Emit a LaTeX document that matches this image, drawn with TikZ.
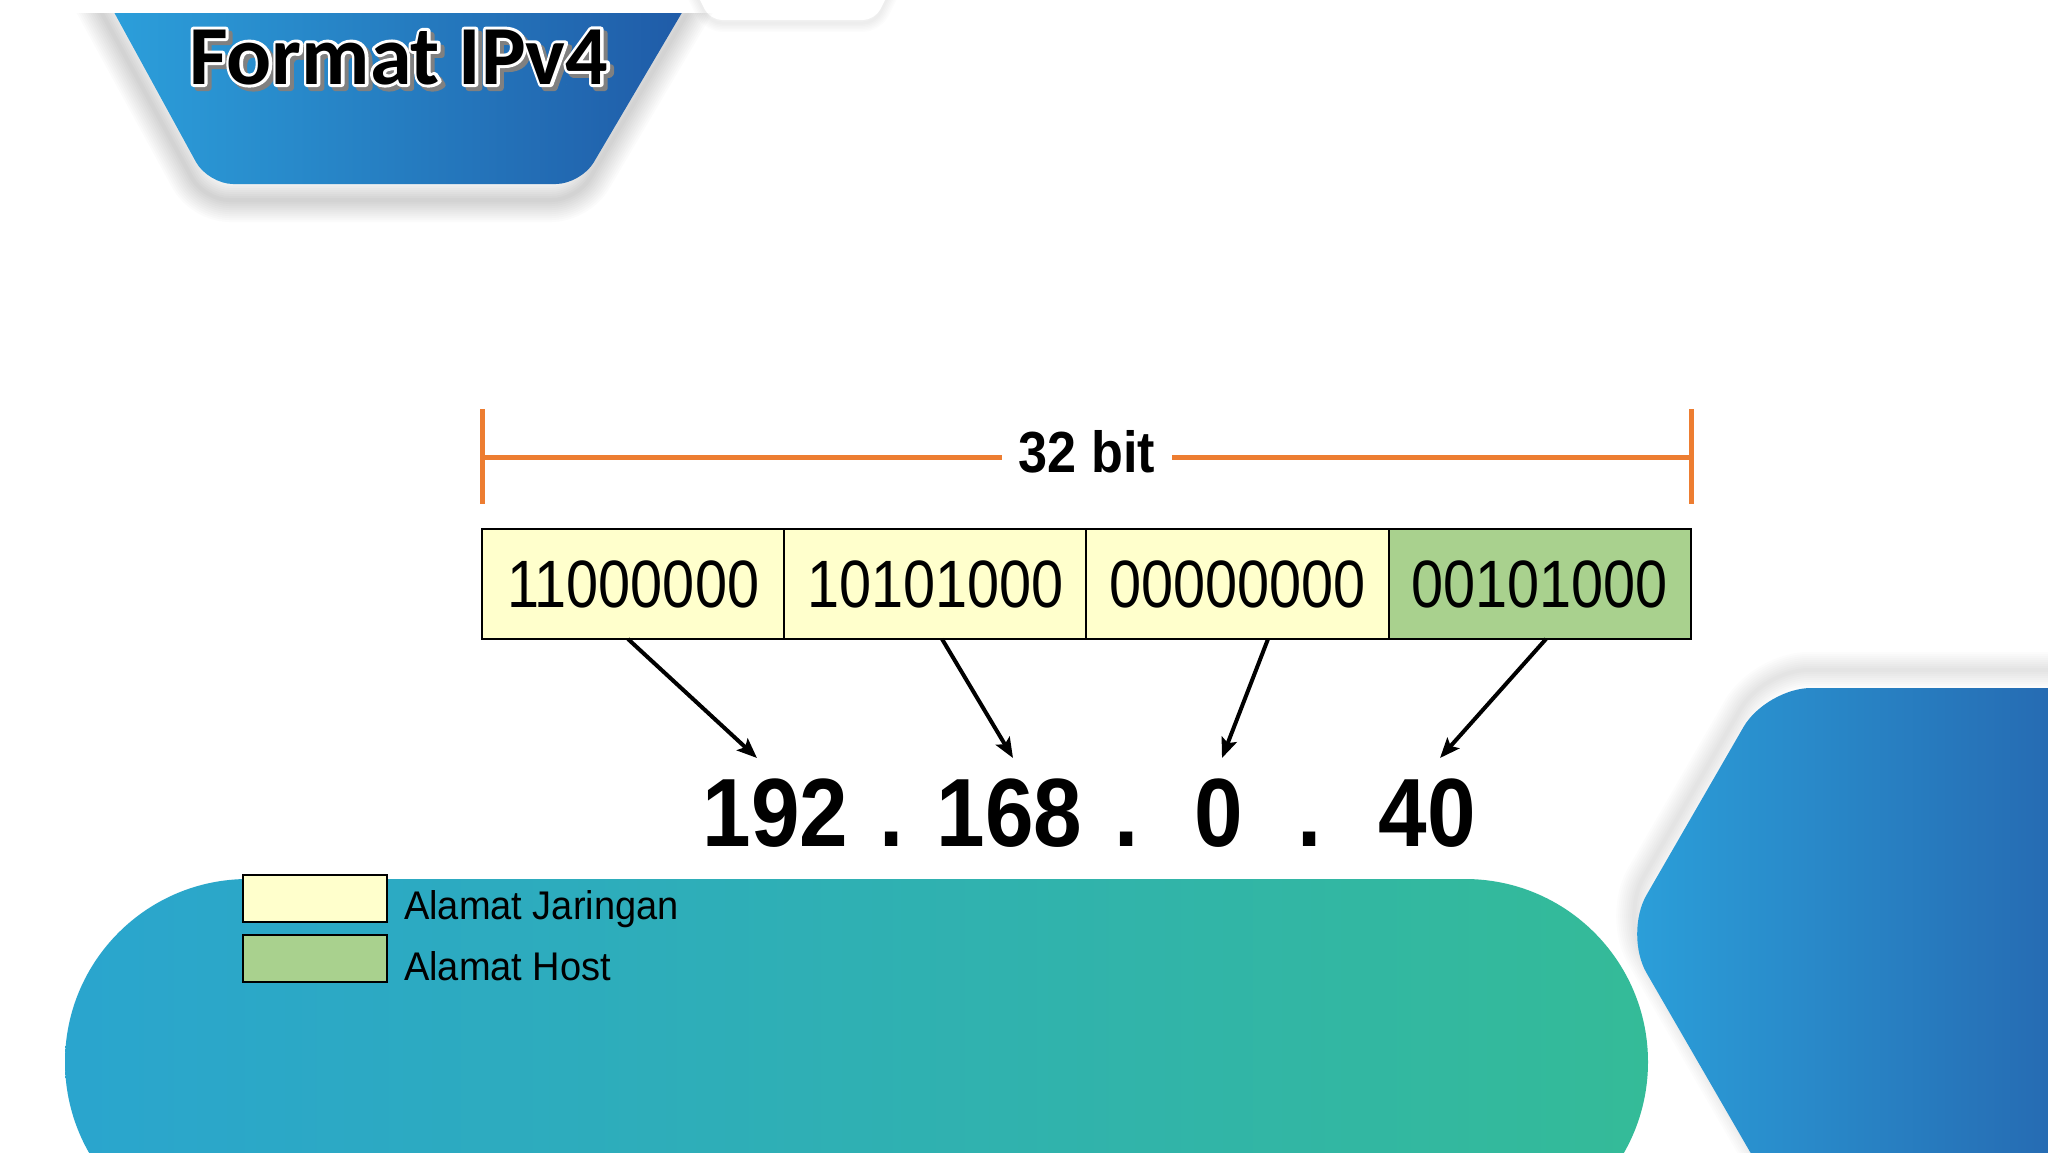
\documentclass[tikz,border=0pt]{standalone}
\usepackage{fontspec}
\setmainfont{Liberation Sans}
\newfontfamily\binfont{Liberation Sans}[FakeStretch=0.86]
\newfontfamily\numfont{Liberation Sans}[FakeStretch=0.9]
\newfontfamily\legfont{Liberation Sans}[FakeStretch=0.95]
\newfontfamily\ttlfont{Carlito}
\usetikzlibrary{arrows.meta,calc}
\definecolor{netyel}{HTML}{FFFFCC}
\definecolor{hostgr}{HTML}{A9D18E}
\definecolor{orng}{HTML}{ED7D31}
\definecolor{tL}{HTML}{2CA2DD}
\definecolor{tR}{HTML}{1F58A5}
\definecolor{hL}{HTML}{2BA0DA}
\definecolor{hR}{HTML}{2459A5}
\definecolor{bL}{HTML}{2AA5CE}
\definecolor{bR}{HTML}{34BB98}
\newcommand\ttlfnt{\ttlfont\bfseries\fontsize{84pt}{100pt}\selectfont}
\newcommand\strokedtext[2]{\special{pdf:literal #1 w 1 j 2 Tr}#2\special{pdf:literal 0 Tr}}
\tikzset{
  titleshape/.style={insert path={(85.5,-40) -- (713,-40) -- (581,184) -- (208,184) -- cycle}},
  hexshape/.style={insert path={(1801,1240) -- (1624,934) -- (1766,688) -- (2200,688) -- (2200,1240) -- cycle}},
  topshape/.style={insert path={(680,-40) -- (905,-40) -- (875,20) -- (710,20) -- cycle}},
  cell/.style={draw=black, line width=2pt, minimum width=302.25pt, minimum height=110pt, inner sep=0pt,
    font=\binfont\fontsize{67pt}{80pt}\selectfont},
  legbox/.style={draw=black, line width=2pt, minimum width=144pt, minimum height=47pt, inner sep=0pt},
  legtext/.style={anchor=base west, inner sep=0pt, font=\legfont\fontsize{40pt}{48pt}\selectfont},
  bignum/.style={anchor=base, inner sep=0pt, font=\numfont\bfseries\fontsize{97pt}{110pt}\selectfont},
  orangeline/.style={draw=orng, line width=5pt},
  arr/.style={-{Stealth[length=20pt,width=16pt,inset=4pt]}, line width=4pt, draw=black},
}
\begin{document}
\begin{tikzpicture}[x=1pt,y=-1pt]
\useasboundingbox (0,0) rectangle (2048,1152);
\clip (0,0) rectangle (2048,1152);
\fill[white] (0,0) rectangle (2048,1152);

% faint top shape
\foreach \w in {3,6,...,18} {\draw[line width=\w pt, black, opacity=0.01, rounded corners=12pt, line join=round, shift={(0,3)}, topshape];}
\fill[white, rounded corners=12pt, topshape];

% bottom blob
\shade[left color=bL, right color=bR, rounded corners=183pt] (65,879) rectangle (1648,1245);

% right hexagon
\foreach \w in {4,8,...,36} {\draw[line width=\w pt, black, opacity=0.011, rounded corners=45pt, line join=round, shift={(-3,-18)}, hexshape];}
\shade[left color=hL, right color=hR, rounded corners=45pt, hexshape];

% title shape
\begin{scope}
\clip (0,13) rectangle (2048,1152);
\foreach \w in {4,8,...,44} {\draw[line width=\w pt, black, opacity=0.016, rounded corners=25pt, line join=round, shift={(-4,16)}, titleshape];}
\shade[left color=tL, right color=tR, rounded corners=25pt, titleshape];
\end{scope}

% title text: shadow, white outline, black fill
\node[anchor=base west, inner sep=0pt, text=black!50] (tshadow) at (193,88) {\ttlfnt\strokedtext{6}{Format IPv4}};
\node[anchor=base west, inner sep=0pt, text=white] (toutline) at (189,84) {\ttlfnt\strokedtext{6}{Format IPv4}};
\node[anchor=base west, inner sep=0pt, text=black] (title) at (189,84) {\ttlfnt Format IPv4};

% 32 bit bracket
\coordinate (lt) at (482,409);
\coordinate (lb) at (482,504);
\coordinate (rt) at (1691,409);
\coordinate (rb) at (1691,504);
\coordinate (lmid) at (482,457);
\coordinate (rmid) at (1691,457);
\node[font=\numfont\bfseries\fontsize{58pt}{70pt}\selectfont, inner xsep=17pt, inner ysep=0pt] (bit) at (1087,452) {32 bit};
\draw[orangeline] (lt) -- (lb);
\draw[orangeline] (rt) -- (rb);
\draw[orangeline] (lmid) -- (lmid -| bit.west);
\draw[orangeline] (bit.east |- rmid) -- (rmid);

% boxes
\node[cell, fill=netyel] (b1) at (633.1,584) {11000000};
\node[cell, fill=netyel] (b2) at (935.4,584) {10101000};
\node[cell, fill=netyel] (b3) at (1237.6,584) {00000000};
\node[cell, fill=hostgr] (b4) at (1539.9,584) {00101000};

% decimal numbers
\node[bignum] (n192) at (775.5,846) {192};
\node[bignum] (d1) at (892,846) {.};
\node[bignum] (n168) at (1009.5,846) {168};
\node[bignum] (d2) at (1127,846) {.};
\node[bignum] (n0) at (1218.5,846) {0};
\node[bignum] (d3) at (1310,846) {.};
\node[bignum] (n40) at (1427,846) {40};

% arrows
\coordinate (s1) at (628,639);
\coordinate (s2) at (942,639);
\coordinate (s3) at (1268,639);
\coordinate (s4) at (1546,639);
\coordinate (e1) at (757,758);
\coordinate (e2) at (1013,758);
\coordinate (e3) at (1222,758);
\coordinate (e4) at (1440,758);
\draw[arr] (s1) -- (e1);
\draw[arr] (s2) -- (e2);
\draw[arr] (s3) -- (e3);
\draw[arr] (s4) -- (e4);

% legend
\node[legbox, fill=netyel] (l1) at (315,898.5) {};
\node[legbox, fill=hostgr] (l2) at (315,958.5) {};
\node[legtext] (t1) at (404,919) {Alamat Jaringan};
\node[legtext] (t2) at (404,980) {Alamat Host};
\end{tikzpicture}
\end{document}
